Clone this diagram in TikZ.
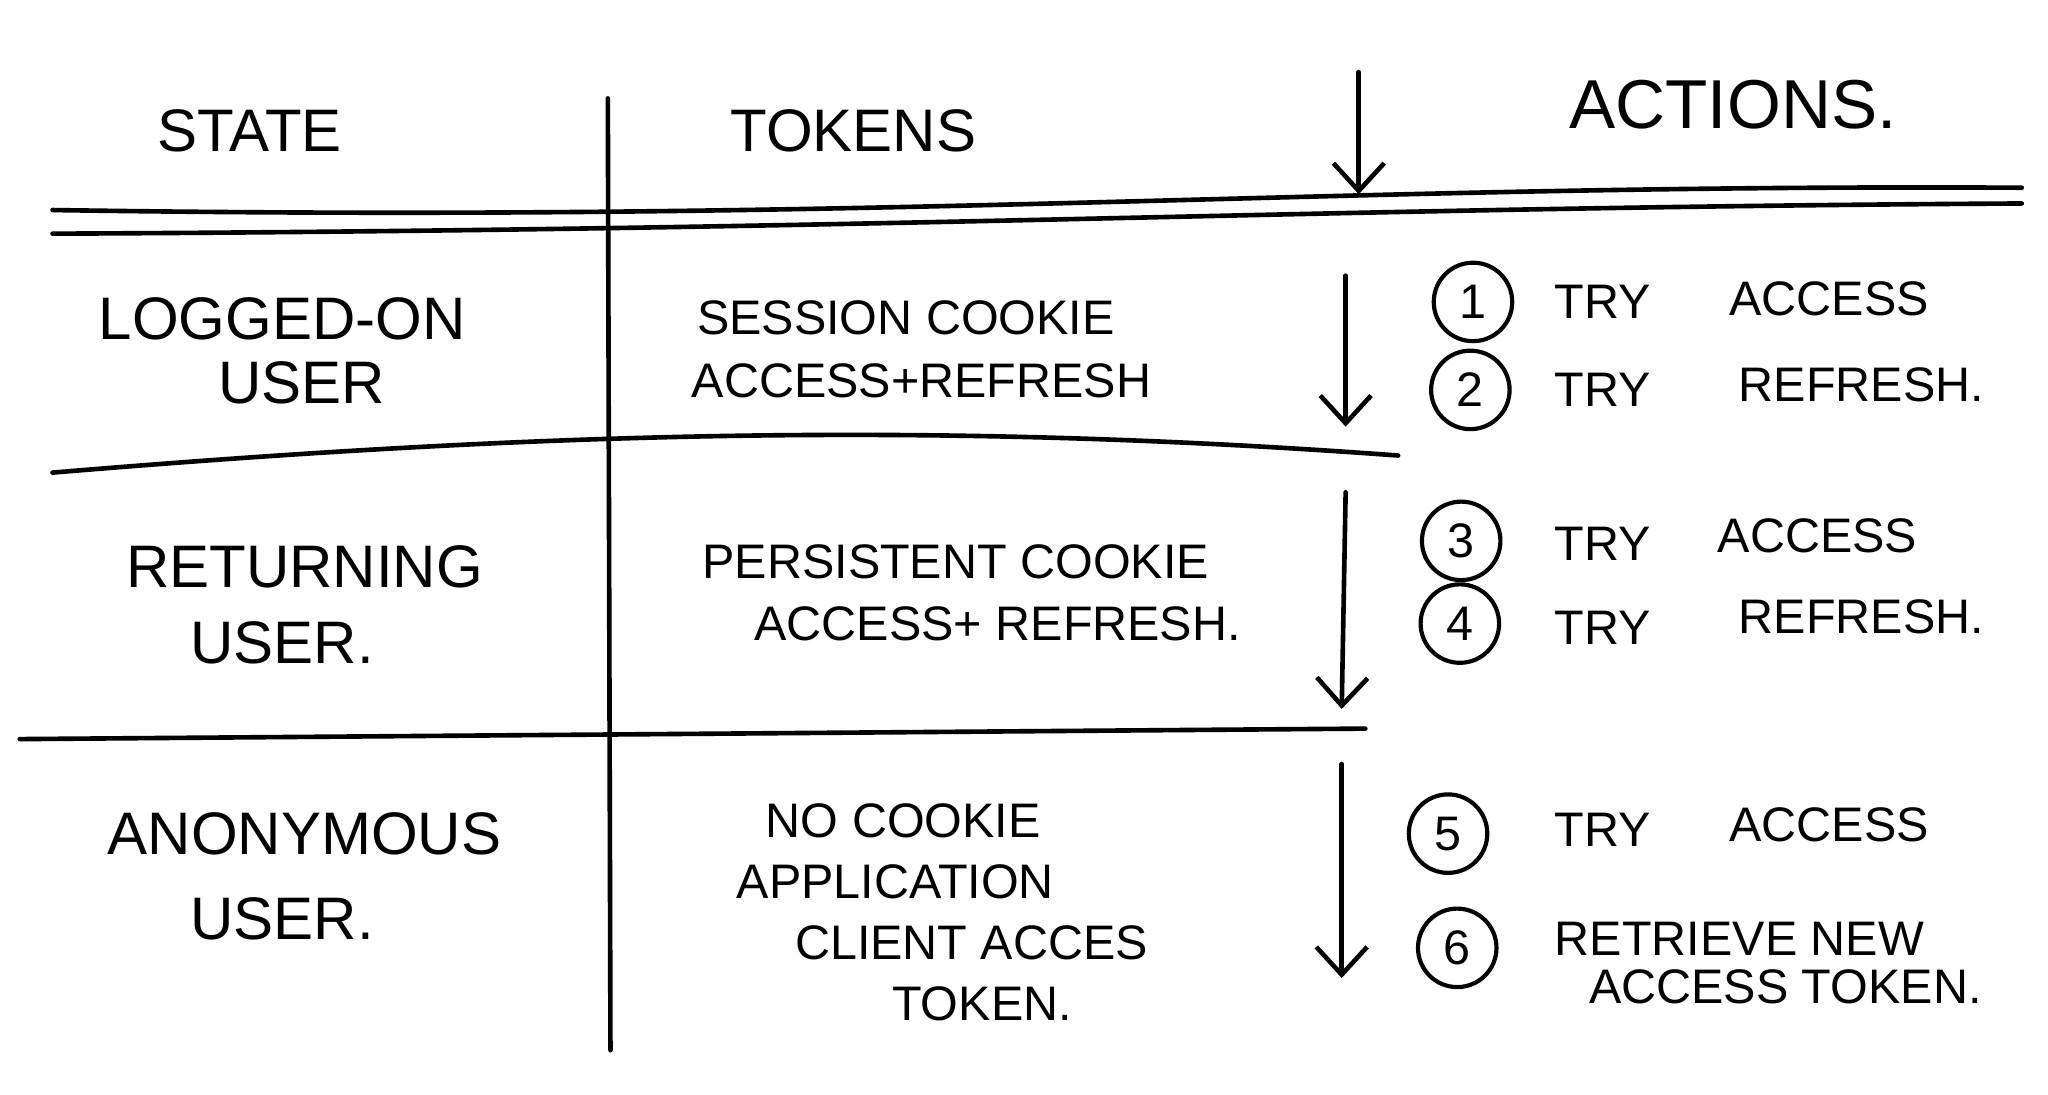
\documentclass[tikz,border=0pt]{standalone}
\usepackage{fontspec}
\setmainfont{Liberation Sans}
\usetikzlibrary{arrows.meta}
\begin{document}
\begin{tikzpicture}[x=0.01cm,y=-0.01cm,
  ln/.style={line width=1pt,line cap=round},
  arr/.style={ln,-{Straight Barb[length=6pt,width=11pt,line width=1pt]}},
  txt/.style={font=\fontsize{10.5}{12}\selectfont},
  big/.style={font=\fontsize{13}{15}\selectfont},
  num/.style={circle,draw,line width=0.9pt,inner sep=0pt,minimum size=17pt,font=\fontsize{10.5}{12}\selectfont}]
\useasboundingbox (0,0) rectangle (1560,834);
% grid lines
\draw[ln] (40,160) .. controls (700,170) and (1000,140) .. (1540,143);
\draw[ln] (40,178) .. controls (700,175) and (1000,158) .. (1540,155);
\draw[ln] (463,75) -- (465,800);
\draw[ln] (40,360) .. controls (400,330) and (700,320) .. (1065,347);
\draw[ln] (15,563) -- (1040,555);
% arrows
\coordinate (h0) at (1035,55); \coordinate (h1) at (1035,148);
\draw[arr] (h0) -- (h1);
\coordinate (a0) at (1025,210); \coordinate (a1) at (1025,325);
\coordinate (b0) at (1025,375); \coordinate (b1) at (1022,540);
\coordinate (c0) at (1022,582); \coordinate (c1) at (1022,745);
\draw[arr] (a0) -- (a1);
\draw[arr] (b0) -- (b1);
\draw[arr] (c0) -- (c1);
% headers
\node[big] (hs) at (190,100) {STATE};
\node[big] (ht) at (650,100) {TOKENS};
\node[big,font=\fontsize{15}{18}\selectfont] (ha) at (1320,80) {ACTIONS.};
% state column
\node[big] (s1) at (215,243) {LOGGED-ON};
\node[big] (s2) at (230,292) {USER};
\node[big] (s3) at (232,432) {RETURNING};
\node[big] (s4) at (215,490) {USER.};
\node[big] (s5) at (232,635) {ANONYMOUS};
\node[big] (s6) at (215,700) {USER.};
% tokens column
\node[txt] (t1) at (690,242) {SESSION COOKIE};
\node[txt] (t2) at (702,290) {ACCESS+REFRESH};
\node[txt] (t3) at (728,428) {PERSISTENT COOKIE};
\node[txt] (t4) at (760,475) {ACCESS+ REFRESH.};
\node[txt] (t5) at (688,625) {NO COOKIE};
\node[txt] (t6) at (682,672) {APPLICATION};
\node[txt] (t7) at (740,718) {CLIENT ACCES};
\node[txt] (t8) at (748,765) {TOKEN.};
% actions
\node[num] (n1) at (1122,230) {1};
\node[num] (n2) at (1120,297) {2};
\node[num] (n3) at (1113,412) {3};
\node[num] (n4) at (1112,475) {4};
\node[num] (n5) at (1103,635) {5};
\node[num] (n6) at (1110,722) {6};
\node[txt,anchor=west] (r1) at (1172,230) {TRY};
\node[txt,anchor=west] (r1b) at (1305,228) {ACCESS};
\node[txt,anchor=west] (r2) at (1172,297) {TRY};
\node[txt,anchor=west] (r2b) at (1312,293) {REFRESH.};
\node[txt,anchor=west] (r3) at (1172,414) {TRY};
\node[txt,anchor=west] (r3b) at (1296,408) {ACCESS};
\node[txt,anchor=west] (r4) at (1172,478) {TRY};
\node[txt,anchor=west] (r4b) at (1312,470) {REFRESH.};
\node[txt,anchor=west] (r5) at (1172,632) {TRY};
\node[txt,anchor=west] (r5b) at (1305,628) {ACCESS};
\node[txt,anchor=west] (r6) at (1172,715) {RETRIEVE NEW};
\node[txt,anchor=west] (r6b) at (1198,752) {ACCESS TOKEN.};
\end{tikzpicture}
\end{document}
